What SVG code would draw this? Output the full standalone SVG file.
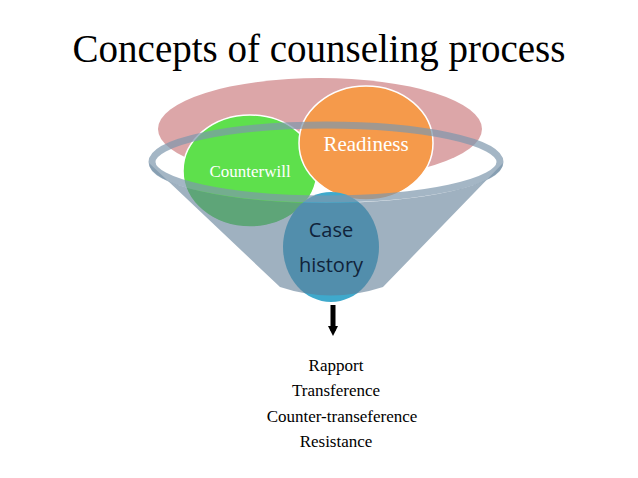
<svg xmlns="http://www.w3.org/2000/svg" width="638" height="478" viewBox="0 0 638 478">
<style>
.serif{font-family:"Liberation Serif","Times New Roman",serif}
.sans{font-family:"Open Sans","Liberation Sans",sans-serif}
.list{font-size:17px;fill:#000;text-anchor:middle}
</style>
<defs>
<marker id="ah" viewBox="0 0 10 10" refX="5" refY="5" markerWidth="2.2" markerHeight="2" orient="auto" markerUnits="strokeWidth"><path d="M0,0 L10,5 L0,10 Z" fill="#000"/></marker>
</defs>
<rect width="638" height="478" fill="#fff"/>
<text class="serif" x="319" y="62" font-size="39" text-anchor="middle" fill="#000">Concepts of counseling process</text>
<g id="back-ellipse"><ellipse cx="320" cy="129" rx="162" ry="51" fill="#dca6a8"/></g>
<g id="counterwill"><ellipse cx="250" cy="171" rx="67" ry="56" fill="#5ee04c" stroke="#fff" stroke-width="1.5"/></g>
<g id="readiness"><ellipse cx="366" cy="143" rx="67" ry="57" fill="#f59a4b" stroke="#fff" stroke-width="1.5"/></g>
<g id="case-history"><ellipse cx="331" cy="247" rx="48" ry="55" fill="#3fa9cc"/></g>
<g id="funnel">
<path d="M149,163 A177,40 0 0 0 503,163 L383,287 Q331,304 280,287 Z" fill="#5f7d96" fill-opacity="0.6"/>
<ellipse cx="326" cy="162" rx="174" ry="37" fill="none" stroke="#7d97ad" stroke-opacity="0.7" stroke-width="7"/>
</g>
<text class="serif" x="366" y="151" font-size="21" fill="#fff" text-anchor="middle">Readiness</text>
<text class="serif" x="250" y="177" font-size="17" fill="#fff" text-anchor="middle">Counterwill</text>
<text class="sans" x="331" y="237" font-size="20" fill="#10233a" text-anchor="middle">Case</text>
<text class="sans" x="331" y="272" font-size="20" fill="#10233a" text-anchor="middle">history</text>
<g id="connectors"><line x1="333" y1="305" x2="333" y2="331" stroke="#000" stroke-width="5" marker-end="url(#ah)"/></g>
<g id="outcomes">
<text class="serif list" x="336" y="371">Rapport</text>
<text class="serif list" x="336" y="396">Transference</text>
<text class="serif list" x="342" y="422">Counter-transeference</text>
<text class="serif list" x="336" y="447">Resistance</text>
</g>
</svg>
